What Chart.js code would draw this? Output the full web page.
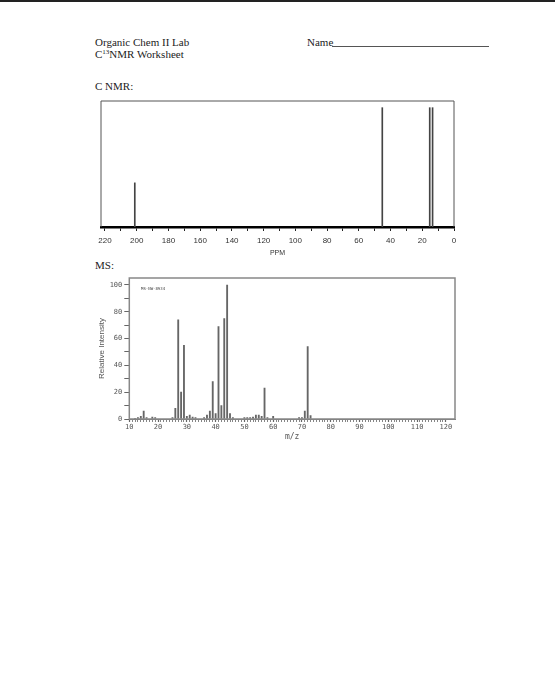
<!DOCTYPE html>
<html>
<head>
<meta charset="utf-8">
<script src="https://cdn.jsdelivr.net/npm/chart.js@4.4.1/dist/chart.umd.min.js"></script>
<style>
  body { margin: 0; width: 555px; height: 700px; background: #fff; position: relative; overflow: hidden; }
  .t { position: absolute; font-family: "Liberation Serif", serif; font-size: 11px; color: #222; white-space: nowrap; }
  #topline { position: absolute; left: 0; top: 0; width: 555px; height: 2px; background: #222; }
  #nameline { position: absolute; left: 332px; top: 46px; width: 157px; height: 1px; background: #555; }
  canvas { position: absolute; }
  #tag { position: absolute; left: 141px; top: 286px; font-family: "DejaVu Sans Mono", monospace; font-size: 4px; color: #444; }
</style>
</head>
<body>
<div id="topline"></div>
<div class="t" style="left:95px; top:36px;">Organic Chem II Lab</div>
<div class="t" style="left:95px; top:48px;">C<sup style="font-size:7px; vertical-align:4px; line-height:0">13</sup>NMR Worksheet</div>
<div class="t" style="left:307px; top:36px;">Name</div>
<div id="nameline"></div>
<div class="t" style="left:95px; top:80px;">C NMR:</div>
<div class="t" style="left:95px; top:259px;">MS:</div>
<div style="position:absolute; left:95px; top:95px; width:365px; height:170px;"><canvas id="nmr"></canvas></div>
<div style="position:absolute; left:95px; top:270px; width:370px; height:175px;"><canvas id="ms"></canvas></div>
<div id="tag">MS-NW-8934</div>

<script>
// C-13 NMR peaks (ppm) and relative heights
const nmrShift = [201.2, 45.2, 15.3, 13.5];
const nmrHeight = [37, 100, 100, 100];
const nmrTicks = [0, 10, 20, 30, 40, 50, 60, 70, 80, 90, 100, 110, 120, 130, 140, 150, 160, 170, 180, 190, 200, 210, 220];

// mass spectrum
const msMz = [12, 13, 14, 15, 16, 18, 19, 25, 26, 27, 28, 29, 30, 31, 32, 33, 36, 37, 38, 39, 40, 41, 42, 43, 44, 45, 46, 50, 51, 52, 53, 54, 55, 56, 57, 58, 60, 69, 70, 71, 72, 73];
const msInt = [0.5, 1, 2, 6, 1, 1.5, 1, 1, 8, 74, 20, 55, 2, 3, 1.5, 1, 1, 3, 6, 28, 4, 69, 10, 75, 100, 4, 1, 1, 1, 1, 1.5, 3, 3, 2, 23, 1, 2, 1, 1, 6, 54, 2.5];
const msYTicks = [0, 10, 20, 30, 40, 50, 60, 70, 80, 90, 100];
const msXTicks = [];
for (let v = 10; v <= 120; v++) msXTicks.push(v);

const boxPlugin = {
  id: 'box',
  afterDraw(chart, args, opts) {
    const { ctx, chartArea: a } = chart;
    ctx.save();
    ctx.strokeStyle = opts.color;
    ctx.lineWidth = opts.width;
    ctx.beginPath();
    ctx.moveTo(a.left, a.bottom);
    ctx.lineTo(a.left, a.top);
    ctx.lineTo(a.right, a.top);
    ctx.lineTo(a.right, a.bottom);
    if (opts.bottom) ctx.lineTo(a.left, a.bottom);
    ctx.stroke();
    ctx.restore();
  }
};

new Chart(document.getElementById('nmr'), {
  type: 'bar',
  data: {
    datasets: [{
      data: nmrShift.map((x, i) => ({ x: x, y: nmrHeight[i] })),
      backgroundColor: '#444',
      barThickness: 1
    }]
  },
  options: {
    animation: false,
    responsive: true,
    maintainAspectRatio: false,
    layout: { padding: { left: 6, right: 6, top: 6, bottom: 0 } },
    plugins: { legend: { display: false }, tooltip: { enabled: false }, box: { color: '#555', width: 1, bottom: false } },
    scales: {
      x: {
        type: 'linear', reverse: true, min: 0, max: 222.5, offset: false,
        afterBuildTicks: s => { s.ticks = nmrTicks.map(v => ({ value: v })); },
        afterFit: s => { s.height = 38; },
        border: { color: '#000', width: 2.5 },
        grid: { drawOnChartArea: false, offset: false, tickLength: 4, color: '#222' },
        ticks: {
          autoSkip: false, maxRotation: 0, padding: 5, color: '#333',
          font: { family: 'Liberation Sans', size: 8 },
          callback: v => (v % 20 === 0 ? v : '')
        },
        title: { display: true, text: 'PPM', color: '#333', font: { family: 'Liberation Sans', size: 7 }, padding: { top: 0, bottom: 8 } }
      },
      y: { display: false, min: 0, max: 105.6 }
    }
  },
  plugins: [boxPlugin]
});

new Chart(document.getElementById('ms'), {
  type: 'bar',
  data: {
    datasets: [{
      data: msMz.map((x, i) => ({ x: x, y: msInt[i] })),
      backgroundColor: '#666',
      barThickness: 1.2
    }]
  },
  options: {
    animation: false,
    responsive: true,
    maintainAspectRatio: false,
    layout: { padding: { left: 0, right: 10, top: 8, bottom: 0 } },
    plugins: { legend: { display: false }, tooltip: { enabled: false }, box: { color: '#888', width: 1.5, bottom: true } },
    scales: {
      x: {
        type: 'linear', min: 10, max: 123.2, offset: false,
        afterBuildTicks: s => { s.ticks = msXTicks.map(v => ({ value: v })); },
        afterFit: s => { s.height = 26; },
        border: { color: '#777', width: 1 },
        grid: { drawOnChartArea: false, offset: false, tickLength: 3, color: '#666', tickWidth: c => (c.tick && c.tick.value % 10 === 0 ? 1.2 : 0.8) },
        ticks: {
          autoSkip: false, maxRotation: 0, padding: 1, color: '#555',
          font: { family: 'DejaVu Sans Mono', size: 7 },
          callback: v => (v % 10 === 0 ? v : '')
        },
        title: { display: true, text: 'm/z', color: '#555', font: { family: 'DejaVu Sans Mono', size: 8 }, padding: { top: 0, bottom: 3 } }
      },
      y: {
        min: 0, max: 105.2,
        afterBuildTicks: s => { s.ticks = msYTicks.map(v => ({ value: v })); },
        afterFit: s => { s.width = 34.3; },
        border: { color: '#888', width: 1 },
        grid: { drawOnChartArea: false, tickLength: 5, color: '#666' },
        ticks: {
          autoSkip: false, padding: 2, color: '#555',
          font: { family: 'DejaVu Sans Mono', size: 7 },
          callback: v => (v % 20 === 0 ? v : '')
        },
        title: { display: true, text: 'Relative Intensity', color: '#555', font: { family: 'Liberation Sans', size: 8 }, padding: { top: 2, bottom: 0 } }
      }
    }
  },
  plugins: [boxPlugin]
});
</script>
</body>
</html>
